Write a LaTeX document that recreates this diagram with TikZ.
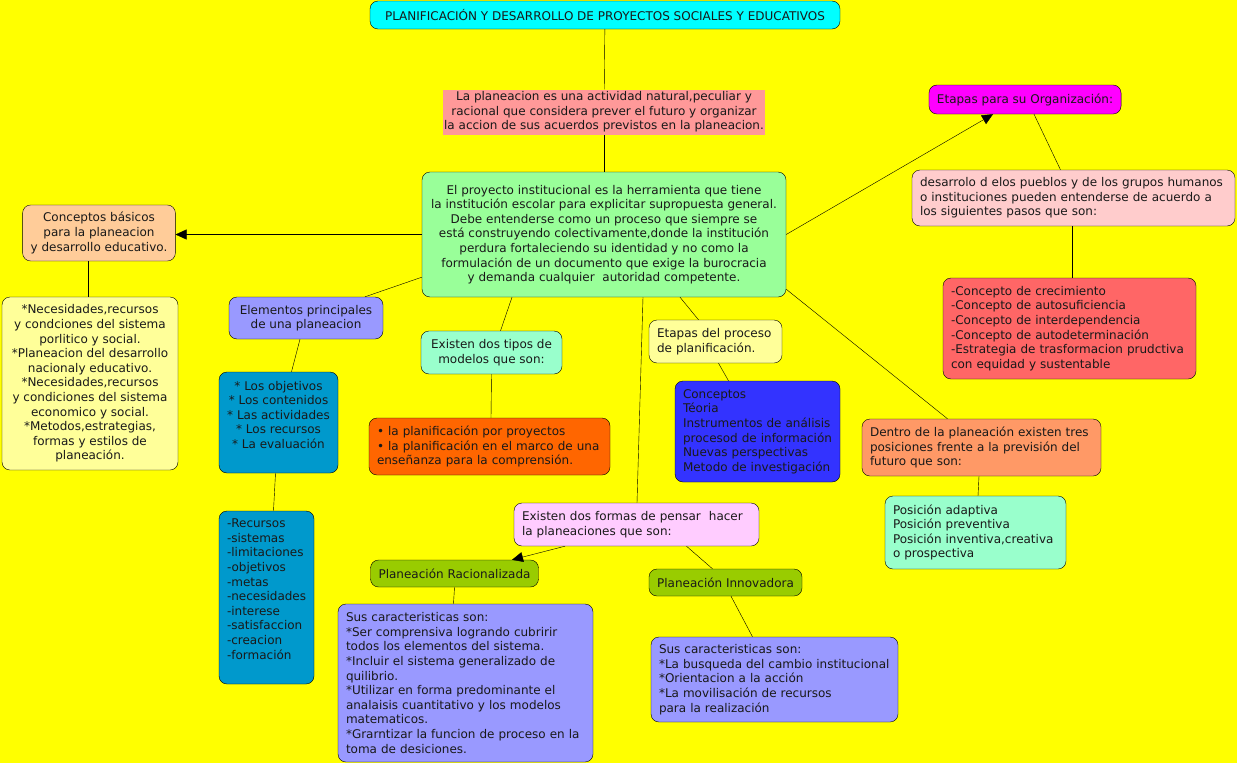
\documentclass[tikz,border=0pt]{standalone}
\usepackage{fontspec}
\setmainfont{DejaVu Sans}
\usetikzlibrary{arrows.meta}
\definecolor{fondo}{HTML}{FFFF00}
\definecolor{cian}{HTML}{00FFFF}
\definecolor{salmon}{HTML}{FF9999}
\definecolor{verde}{HTML}{99FF99}
\definecolor{durazno}{HTML}{FFCC99}
\definecolor{crema}{HTML}{FFFF99}
\definecolor{lila}{HTML}{9999FF}
\definecolor{petroleo}{HTML}{0099CC}
\definecolor{menta}{HTML}{99FFCC}
\definecolor{naranja}{HTML}{FF6600}
\definecolor{azul}{HTML}{3333FF}
\definecolor{rosa}{HTML}{FFCCFF}
\definecolor{oliva}{HTML}{99CC00}
\definecolor{magenta}{HTML}{FF00FF}
\definecolor{rosapalido}{HTML}{FFCCCC}
\definecolor{rojo}{HTML}{FF6666}
\definecolor{coral}{HTML}{FF9966}
\tikzset{
    x=1pt, y=-1pt,
    every node/.style={
        font=\fontsize{12}{14.6}\selectfont,
        text=black!90},
    caja/.style={
        draw,
        thin,
        rounded corners=8pt,
        inner xsep=8pt,
        inner ysep=2pt},
    centrada/.style={caja, align=center},
    izquierda/.style={caja, align=left},
    linea/.style={draw, thin},
    flecha/.style={draw, thin, -{Triangle[length=11pt,width=10pt]}}}

\begin{document}
\begin{tikzpicture}
        \fill[fondo] (0,0) rectangle (1237,763);
        \useasboundingbox (0,0) rectangle (1237,763);
        % centro del mapa
        \node[centrada, fill=cian, minimum width=470pt, minimum height=28pt] (titulo) at (605,15)
            {PLANIFICACIÓN Y DESARROLLO DE PROYECTOS SOCIALES Y EDUCATIVOS};
        \node[fill=salmon, align=center, inner sep=1pt, minimum width=322pt, minimum height=45pt] (plan) at (604,112)
            {La planeacion es una actividad natural,peculiar y\\racional que considera prever el futuro y organizar\\la accion de sus acuerdos previstos en la planeacion.};
        \node[centrada, fill=verde, minimum width=364pt, minimum height=125pt] (proyecto) at (604,234.5)
            {El proyecto institucional es la herramienta que tiene\\la institución escolar para explicitar supropuesta general.\\Debe entenderse como un proceso que siempre se\\está construyendo colectivamente,donde la institución\\perdura fortaleciendo su identidad y no como la\\formulación de un documento que exige la burocracia\\y demanda cualquier\ \ autoridad competente.};
        % lado izquierdo
        \node[centrada, fill=durazno, minimum width=152pt, minimum height=56pt] (basicos) at (99,233)
            {Conceptos básicos\\para la planeacion\\y desarrollo educativo.};
        \node[centrada, fill=crema, minimum width=176pt, minimum height=173pt] (necesidades) at (90,383.5)
            {{}*Necesidades,recursos\\y condciones del sistema\\porlitico y social.\\{}*Planeacion del desarrollo\\nacionaly educativo.\\{}*Necesidades,recursos\\y condiciones del sistema\\economico y social.\\{}*Metodos,estrategias,\\formas y estilos de\\planeación.};
        \node[centrada, fill=lila, minimum width=154pt, minimum height=42pt] (elementos) at (306,318)
            {Elementos principales\\de una planeacion};
        \node[centrada, fill=petroleo, minimum width=119pt, minimum height=101pt] (objetivos) at (278.5,422.5)
            {{}* Los objetivos\\{}* Los contenidos\\{}* Las actividades\\{}* Los recursos\\{}* La evaluación\\[1pt]};
        \node[izquierda, fill=petroleo, text width=79pt, minimum width=95pt, minimum height=173pt] (recursos) at (266.5,597.5)
            {-Recursos\\-sistemas\\-limitaciones\\-objetivos\\-metas\\\mbox{-necesidades}\\-interese\\-satisfaccion\\-creacion\\-formación\\[2.4pt]\mbox{}};
        % modelos
        \node[centrada, fill=menta, minimum width=141pt, minimum height=43pt] (dostipos) at (491.5,352.5)
            {Existen dos tipos de\\modelos que son:};
        \node[izquierda, fill=naranja, text width=225pt, minimum width=241pt, minimum height=57pt] (modelos) at (489.5,446.5)
            {\textbullet\ la planificación por proyectos\\\textbullet\ la planificación en el marco de una\\enseñanza para la comprensión.};
        \node[izquierda, fill=crema, text width=117pt, minimum width=133pt, minimum height=43pt] (etapasproc) at (715.5,341.5)
            {Etapas del proceso\\de planificación.};
        \node[izquierda, fill=azul, text width=149pt, minimum width=165pt, minimum height=101pt] (conceptos) at (757.5,431.5)
            {Conceptos\\Téoria\\Instrumentos de análisis\\procesod de información\\Nuevas perspectivas\\Metodo de investigación};
        % formas de pensar
        \node[izquierda, fill=rosa, text width=229pt, minimum width=245pt, minimum height=43pt] (formas) at (636.5,524.5)
            {Existen dos formas de pensar\ \ hacer\\la planeaciones que son:};
        \node[centrada, fill=oliva, minimum width=167pt, minimum height=27pt] (racional) at (454.5,573.5)
            {Planeación Racionalizada};
        \node[izquierda, fill=lila, text width=239pt, minimum width=255pt, minimum height=158pt] (susracional) at (465.5,683)
            {Sus caracteristicas son:\\{}*Ser comprensiva logrando cubririr\\todos los elementos del sistema.\\{}*Incluir el sistema generalizado de\\quilibrio.\\{}*Utilizar en forma predominante el\\analaisis cuantitativo y los modelos\\matematicos.\\{}*Grarntizar la funcion de proceso en la\\toma de desiciones.};
        \node[centrada, fill=oliva, minimum width=153pt, minimum height=27pt] (innova) at (725.5,582.5)
            {Planeación Innovadora};
        \node[izquierda, fill=lila, text width=231pt, minimum width=247pt, minimum height=85pt] (susinnova) at (774.5,679.5)
            {Sus caracteristicas son:\\{}*La busqueda del cambio institucional\\{}*Orientacion a la acción\\{}*La movilisación de recursos\\para la realización};
        % lado derecho
        \node[centrada, fill=magenta, minimum width=192pt, minimum height=29pt] (organiza) at (1025,99.5)
            {Etapas para su Organización:};
        \node[izquierda, fill=rosapalido, text width=307pt, minimum width=323pt, minimum height=56pt] (pueblos) at (1073.5,198)
            {desarrolo d elos pueblos y de los grupos humanos\\o instituciones pueden entenderse de acuerdo a\\los siguientes pasos que son:};
        \node[izquierda, fill=rojo, text width=237pt, minimum width=253pt, minimum height=101pt] (crecimiento) at (1069.5,328.5)
            {-Concepto de crecimiento\\-Concepto de autosuficiencia\\-Concepto de interdependencia\\-Concepto de autodeterminación\\-Estrategia de trasformacion prudctiva\\con equidad y sustentable};
        \node[izquierda, fill=coral, text width=223pt, minimum width=239pt, minimum height=57pt] (dentro) at (981.5,447.5)
            {Dentro de la planeación existen tres\\posiciones frente a la previsión del\\futuro que son:};
        \node[izquierda, fill=menta, text width=165pt, minimum width=181pt, minimum height=73pt] (posicion) at (975.5,532.5)
            {Posición adaptiva\\Posición preventiva\\Posición inventiva,creativa\\o prospectiva};
        % conectores
        \draw[linea] (titulo) -- (plan);
        \draw[linea] (plan) -- (proyecto);
        \draw[flecha] (proyecto.west) -- (proyecto.west -| basicos.east);
        \draw[linea] ([xshift=-11pt]basicos.south) -- ([xshift=-2pt]necesidades.north);
        \draw[linea] ([yshift=20pt]proyecto.south west) -- ([xshift=59pt]elementos.north);
        \draw[linea] ([xshift=-6pt]elementos.south) -- ([xshift=13pt]objetivos.north);
        \draw[linea] ([xshift=-3pt]objetivos.south) -- ([xshift=7pt]recursos.north);
        \draw[linea] ([xshift=-92pt]proyecto.south) -- ([xshift=9pt]dostipos.north);
        \draw[linea] (dostipos.south) -- ([xshift=1.5pt]modelos.north);
        \draw[linea] ([xshift=76pt]proyecto.south) -- ([xshift=-17pt]etapasproc.north);
        \draw[linea] ([xshift=3pt]etapasproc.south) -- ([xshift=-29pt]conceptos.north);
        \draw[linea] ([xshift=39pt]proyecto.south) -- ([xshift=0.5pt]formas.north);
        \draw[flecha] ([xshift=-71.5pt]formas.south) -- ([xshift=57.5pt]racional.north);
        \draw[linea] (racional.south) -- ([xshift=-12pt]susracional.north);
        \draw[linea] ([xshift=50pt]formas.south) -- ([xshift=-13pt]innova.north);
        \draw[linea] ([xshift=5.5pt]innova.south) -- ([xshift=-22pt]susinnova.north);
        \draw[flecha] (proyecto.east) -- ([xshift=-32pt]organiza.south);
        \draw[linea] ([xshift=9pt]organiza.south) -- ([xshift=-13pt]pueblos.north);
        \draw[linea] ([xshift=-1.5pt]pueblos.south) -- ([xshift=2.5pt]crecimiento.north);
        \draw[linea] ([yshift=8pt]proyecto.south east) -- ([xshift=-34pt]dentro.north);
        \draw[linea] ([xshift=-2.5pt]dentro.south) -- ([xshift=2.5pt]posicion.north);
\end{tikzpicture}
\end{document}
